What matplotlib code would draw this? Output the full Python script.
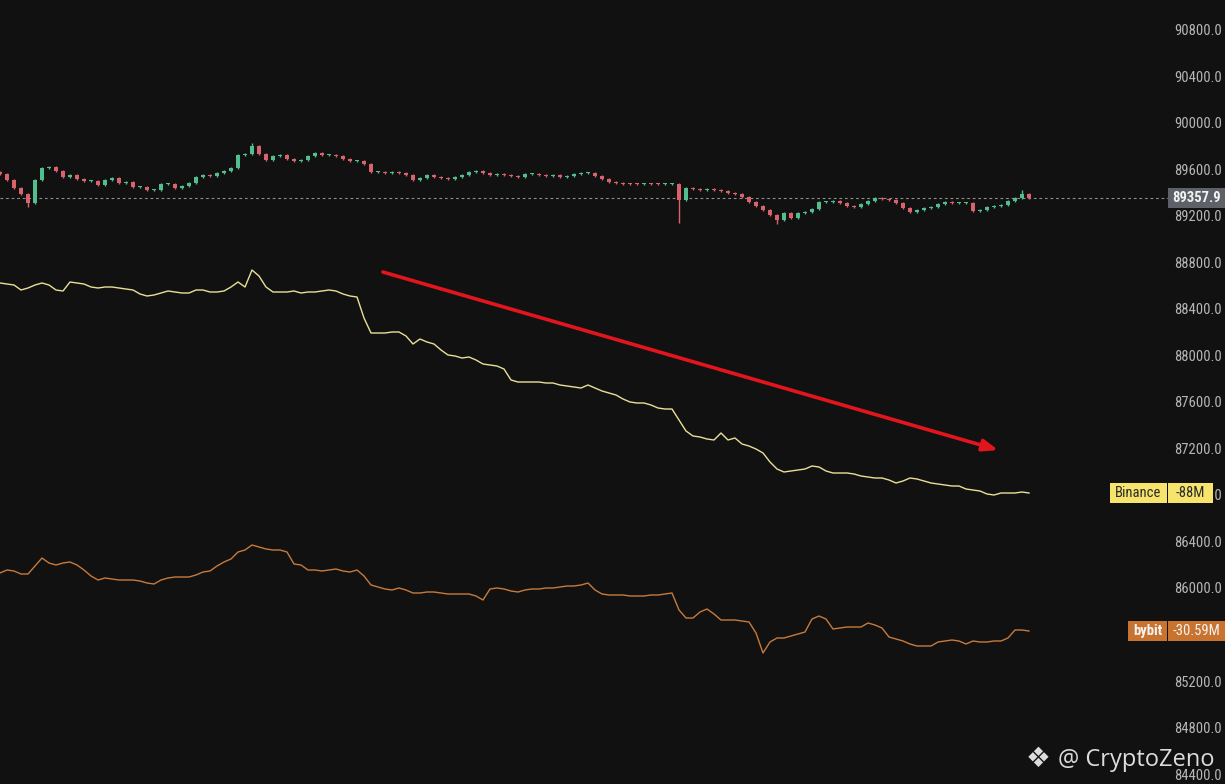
"""
BTC price with Binance / Bybit CVD overlay
"""

import numpy as np
import matplotlib.pyplot as plt
from matplotlib.patches import Rectangle

W, H = 1225, 784
BG = "#111111"
UP = "#52bd8f"
DOWN = "#d9636d"
YEL = "#eadf98"
ORG = "#c77a3c"
RED = "#e3151c"
NARROW = ["Roboto Condensed", "Roboto", "DejaVu Sans"]

# candle closes (USDT), one per bar
closes = [89561, 89510, 89441, 89389, 89312, 89510, 89613, 89621, 89587, 89535,
          89553, 89518, 89501, 89501, 89467, 89510, 89527, 89484, 89492, 89449,
          89449, 89424, 89424, 89475, 89475, 89441, 89458, 89484, 89535, 89553,
          89544, 89570, 89587, 89613, 89725, 89733, 89802, 89733, 89682, 89716,
          89725, 89690, 89673, 89682, 89716, 89742, 89725, 89725, 89716, 89690,
          89673, 89673, 89647, 89578, 89578, 89570, 89578, 89570, 89553, 89510,
          89527, 89553, 89535, 89527, 89518, 89535, 89553, 89578, 89587, 89570,
          89553, 89561, 89553, 89544, 89535, 89561, 89561, 89553, 89544, 89553,
          89535, 89544, 89561, 89570, 89570, 89544, 89518, 89492, 89484, 89476,
          89475, 89474, 89476, 89475, 89474, 89475, 89476, 89338, 89441, 89432,
          89424, 89432, 89424, 89415, 89398, 89389, 89363, 89320, 89286, 89252,
          89209, 89166, 89226, 89183, 89226, 89234, 89260, 89320, 89320, 89329,
          89312, 89286, 89277, 89303, 89329, 89355, 89346, 89338, 89312, 89269,
          89234, 89252, 89269, 89277, 89303, 89320, 89312, 89312, 89312, 89243,
          89252, 89277, 89286, 89295, 89329, 89355, 89389, 89357.9]
first_open = 89580
wick = 9
# bars with long wicks: index -> (high, low)
long_wicks = {4: (None, 89277), 36: (89828, None), 97: (None, 89140),
              111: (None, 89131), 146: (89424, None)}

# Binance CVD (M)
binance = [17, 16.5, 16, 13.5, 14.5, 16, 17, 16, 13.5, 13,
           17.5, 17, 16.5, 15, 14.5, 15, 15, 14.5, 14, 13.5,
           11.5, 10.5, 11, 12, 13, 12.5, 12, 12, 13.5, 13.5,
           12.5, 12.5, 13, 15, 17.5, 15, 23.5, 20.5, 15, 12.5,
           12.5, 12.5, 13, 12, 12.5, 12.5, 13, 13.5, 13, 11.5,
           10.5, 10, -0.5, -8, -8, -8, -7.5, -7.5, -9.5, -13.5,
           -11, -12.5, -13.5, -16.5, -19, -19.5, -20.5, -20, -21.5, -23.5,
           -24, -24.5, -26, -31.5, -32.5, -32.5, -32.5, -32.5, -33, -33,
           -34, -34.5, -35, -35.5, -34, -35.5, -37, -38, -39, -41,
           -42.5, -43, -43, -44, -45.5, -46, -46, -51.5, -57, -59.5,
           -60, -61, -61.5, -58, -61.5, -60.5, -63.5, -64.5, -66, -68,
           -72.5, -76, -77.5, -77, -76.5, -76, -74.5, -75, -77, -78,
           -78, -78, -78.5, -79.5, -80, -80.5, -80.5, -81.5, -83, -82,
           -80.5, -81, -82, -83, -83.5, -84, -84.5, -84.5, -86, -86.5,
           -87, -88.5, -89, -88, -88, -88, -87.5, -88]

# Bybit CVD (M)
bybit = [-16.09, -15.34, -15.59, -16.34, -16.34, -14.34, -12.34, -13.59, -14.09, -13.59,
         -13.34, -14.09, -15.34, -16.84, -17.84, -17.34, -17.59, -17.84, -17.84, -17.84,
         -18.09, -18.59, -18.84, -17.84, -17.34, -17.09, -17.09, -17.09, -16.59, -15.84,
         -15.59, -14.34, -13.34, -12.59, -10.84, -10.34, -9.09, -9.59, -10.09, -10.34,
         -10.34, -10.84, -13.84, -14.09, -15.34, -15.34, -15.59, -15.34, -15.09, -15.59,
         -15.84, -15.34, -16.84, -19.09, -19.59, -20.09, -20.34, -19.84, -20.34, -21.09,
         -21.09, -20.84, -20.84, -21.09, -21.34, -21.34, -21.34, -21.34, -21.84, -22.84,
         -20.09, -19.84, -20.09, -20.59, -20.84, -20.34, -20.09, -20.09, -19.84, -19.84,
         -19.59, -19.34, -19.34, -19.09, -18.59, -20.34, -21.34, -21.59, -21.59, -21.59,
         -21.84, -21.84, -21.84, -21.59, -21.59, -21.34, -21.09, -25.34, -27.34, -27.34,
         -25.84, -25.09, -26.34, -27.84, -27.84, -27.84, -28.09, -28.34, -31.09, -36.09,
         -33.34, -32.34, -32.34, -31.84, -31.34, -30.84, -27.59, -26.84, -27.59, -30.09,
         -29.84, -29.59, -29.59, -29.59, -28.59, -29.09, -29.84, -32.09, -32.59, -33.09,
         -33.84, -34.34, -34.34, -34.34, -33.34, -33.09, -32.84, -33.09, -33.84, -33.09,
         -33.34, -33.34, -33.09, -33.09, -32.34, -30.34, -30.34, -30.59]

price_ticks = np.arange(84400, 90801, 400)
arrow_start = (54.7, 88718)
arrow_end = (142.6, 87187)


def tag(src_ax, value, boxes):
    """Coloured value tags on the right edge"""
    yd = src_ax.transData.transform((0, value))[1] / H
    for x0, x1, text, face, tcolor, weight in boxes:
        fig.add_artist(Rectangle((x0 / W, yd - 10 / H), (x1 - x0) / W, 20 / H,
                                 transform=fig.transFigure, facecolor=face,
                                 edgecolor="none"))
        fig.text((x0 + x1) / 2 / W, yd, text, ha="center", va="center",
                 color=tcolor, fontsize=10.5, family=NARROW, fontweight=weight)


fig = plt.figure(figsize=(W / 100, H / 100), dpi=100)
fig.patch.set_facecolor(BG)
ax = fig.add_axes([0, 0, 1, 1])
ax.set_facecolor(BG)
ax.set_xlim(0, 175)
ax.set_ylim(84314, 91058)

# CVD overlays (twinx first, it resets the main axis tick side)
axb = ax.twinx()
axb.set_ylim(-233.5, 158.5)
axb.axis("off")
axy = ax.twinx()
axy.set_ylim(-68.84, 127.16)
axy.axis("off")

for s in ax.spines.values():
    s.set_visible(False)
ax.tick_params(axis="x", bottom=False, labelbottom=False)
ax.yaxis.tick_right()
ax.set_yticks(price_ticks)
ax.set_yticklabels([f"{t:.1f}" for t in price_ticks])
ax.tick_params(axis="y", left=False, right=False, labelleft=False,
               labelright=True, length=0, pad=-2, labelsize=10.5,
               labelcolor="#b6b6b6", labelfontfamily=NARROW)
for lbl in ax.get_yticklabels():
    lbl.set_horizontalalignment("right")

# candles
c = np.array(closes, dtype=float)
o = np.r_[first_open, c[:-1]]
hi = np.maximum(o, c) + wick
lo = np.minimum(o, c) - wick
for i, (h_, l_) in long_wicks.items():
    if h_ is not None:
        hi[i] = h_
    if l_ is not None:
        lo[i] = l_
x = np.arange(len(c))
cols = np.where(c >= o, UP, DOWN)
ax.vlines(x, lo, hi, colors=cols, lw=1.0, zorder=3)
ax.bar(x, np.maximum(np.abs(c - o), 8), bottom=np.minimum(o, c), width=0.7,
       color=cols, linewidth=0, zorder=4)
ax.axhline(c[-1], color="#8c8c8c", lw=0.8, ls=(0, (2.5, 2.5)), zorder=2)

# trend arrow
ax.annotate("", xy=arrow_end, xytext=arrow_start,
            arrowprops=dict(arrowstyle="-|>,head_length=0.9,head_width=0.35",
                            color=RED, lw=2.6, shrinkA=0, shrinkB=0), zorder=6)

axb.plot(x, binance, color=YEL, lw=1.0)
axy.plot(x, bybit, color=ORG, lw=1.0)

tag(ax, c[-1], [(1168, 1225, "89357.9", "#5f6169", "#f2f2f2", "bold")])
tag(axb, binance[-1], [(1110, 1167, "Binance", "#f6e46c", "#2b2b2b", "normal"),
                       (1168, 1213, "-88M", "#f6e46c", "#2b2b2b", "normal")])
tag(axy, bybit[-1], [(1128, 1167, "bybit", "#c8732f", "#f4f4f4", "bold"),
                     (1168, 1225, "-30.59M", "#c8732f", "#f4f4f4", "normal")])

# watermark
fig.text(1038 / W, 1 - 759 / H, "\u2756", ha="center", va="center",
         fontsize=20, color="#dcdcdc", family="DejaVu Sans")
fig.text(1058 / W, 1 - 760 / H, "@ CryptoZeno", ha="left", va="center",
         fontsize=17, color="#dcdcdc", family="Open Sans")

fig.savefig("out.png", dpi=100, facecolor=BG)
